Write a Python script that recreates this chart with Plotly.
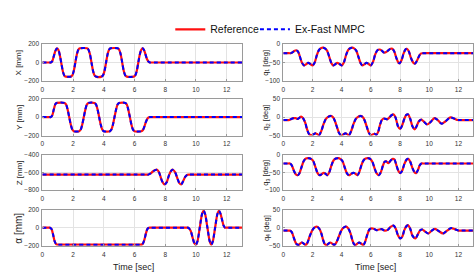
import plotly.graph_objects as go

# ---------------- data ----------------
T_X = [0, 0.45, 0.55, 0.65, 0.75, 0.85, 0.95, 1.05, 1.15, 1.25, 1.35, 1.45, 1.55, 1.85, 1.95, 2.05, 2.15, 2.25, 2.35, 2.45,
       2.9, 3.0, 3.1, 3.2, 3.3, 3.4, 3.5, 3.85, 3.95, 4.05, 4.15, 4.25, 4.35, 4.45, 4.9, 5.0, 5.1, 5.2, 5.3, 5.4, 5.5,
       5.95, 6.05, 6.15, 6.25, 6.35, 6.45, 6.53, 6.62, 6.72, 6.82, 6.92, 7.0, 7.1, 13]
X = [0, 0, 0, 15, 70, 125, 152, 135, 70, -20, -105, -145, -153, -153, -140, -90, 0, 90, 140, 153,
     153, 140, 90, 0, -90, -140, -153, -153, -140, -90, 0, 90, 140, 153, 153, 140, 90, 0, -90, -140, -153,
     -153, -140, -90, 0, 90, 140, 153, 135, 85, 35, 8, 0, 0, 0]

T_Y = [0, 0.45, 0.55, 0.65, 0.75, 0.85, 0.95, 1.45, 1.55, 1.65, 1.75, 1.85, 1.95, 2.05, 2.4, 2.5, 2.6, 2.7, 2.8, 2.9, 3.0,
       3.4, 3.5, 3.6, 3.7, 3.8, 3.9, 4.0, 4.4, 4.5, 4.6, 4.7, 4.8, 4.9, 5.0, 5.4, 5.5, 5.6, 5.7, 5.8, 5.9, 6.0,
       6.45, 6.55, 6.65, 6.75, 6.85, 6.95, 7.05, 7.15, 13]
Y = [0, 0, 0, 20, 85, 140, 153, 153, 135, 80, 0, -80, -135, -153, -153, -135, -80, 0, 80, 135, 153,
     153, 135, 80, 0, -80, -135, -153, -153, -135, -80, 0, 80, 135, 153, 153, 135, 80, 0, -80, -135, -153,
     -153, -140, -100, -50, -15, -2, 0, 0, 0]

T_Z = [0, 6.8, 6.9, 7.05, 7.2, 7.35, 7.47, 7.6, 7.7, 7.8, 7.95, 8.1, 8.25, 8.4, 8.5, 8.65, 8.8, 8.92, 9.04, 9.15, 9.3,
       9.45, 9.55, 9.65, 13]
Z = [-625, -625, -625, -612, -590, -574, -570, -600, -650, -700, -735, -710, -630, -580, -570, -600, -670, -720, -735,
     -705, -650, -627, -625, -625, -625]

T_A = [0, 0.4, 0.5, 0.6, 0.7, 0.8, 0.9, 1.0, 1.1, 6.35, 6.45, 6.55, 6.65, 6.75, 6.85, 6.95, 7.05, 9.4, 9.5, 9.65, 9.8,
       9.9, 10.0, 10.1, 10.25, 10.4, 10.5, 10.6, 10.75, 10.9, 11.0, 11.1, 11.25, 11.4, 11.5, 11.6, 11.7, 11.8, 11.9,
       12.0, 13]
A = [0, 0, 0, -15, -75, -150, -182, -188, -188, -188, -188, -175, -130, -60, -12, 0, 0, 0, 0, -30, -120,
     -172, -188, -152, 0, 152, 188, 152, 0, -152, -188, -152, 0, 152, 188, 157, 90, 25, 0,
     0, 0]

T_Q1 = [0, 0.4, 0.5, 0.62, 0.75, 0.88, 1.0, 1.12, 1.27,
        1.42, 1.55, 1.7, 1.85, 2.0, 2.15, 2.3, 2.45, 2.6, 2.72, 2.85, 3.0, 3.15, 3.3,
        3.42, 3.55, 3.7, 3.85, 4.0, 4.15, 4.3, 4.45, 4.6, 4.72, 4.85, 5.0, 5.15, 5.3,
        5.42, 5.55, 5.7, 5.85, 6.0, 6.15, 6.3, 6.45, 6.6, 6.75, 6.9, 7.05, 7.2, 7.35, 7.47, 7.6, 7.75, 7.9,
        7.98, 8.1, 8.25, 8.37, 8.47, 8.6, 8.75, 8.92, 9.03, 9.15, 9.3, 9.42, 9.55, 9.65, 13]
Q1 = [-25, -25, -25, -23, -19, -17, -20, -32, -50,
      -58, -55, -51, -54, -58, -50, -30, -16, -11, -10, -12, -18, -35, -52,
      -58, -55, -51, -54, -58, -50, -30, -16, -11, -10, -12, -18, -35, -52,
      -58, -55, -51, -54, -58, -48, -28, -17, -15, -18, -23, -22, -17, -13, -13, -20, -38, -51,
      -52, -44, -25, -15, -13, -20, -38, -51, -53, -46, -33, -26, -25, -25, -25]

T_Q2 = [0, 0.32, 0.42, 0.55, 0.7, 0.85, 0.98, 1.1, 1.22, 1.35, 1.5, 1.62, 1.75, 1.9,
        2.05, 2.2, 2.32, 2.45, 2.6, 2.75, 2.9, 3.05, 3.25, 3.42, 3.55, 3.7, 3.82, 3.95,
        4.1, 4.25, 4.37, 4.5, 4.65, 4.8, 4.95, 5.1, 5.3, 5.47, 5.6, 5.75, 5.87, 6.0,
        6.12, 6.25, 6.37, 6.5, 6.62, 6.75, 6.88, 7.0, 7.12, 7.25, 7.42, 7.57, 7.7, 7.85, 8.0, 8.12, 8.3,
        8.43, 8.55, 8.7, 8.85, 9.0, 9.12, 9.28, 9.45, 9.6, 9.85, 10.1, 10.35, 10.55, 10.85, 11.1, 11.45,
        11.7, 11.95, 12.05, 13]
Q2 = [-8, -8, -8, -5, -3, -3, -5, -2, 1, -3, -15, -32, -45, -49,
      -47, -44, -46, -49, -38, -20, -6, 0, 3, -1, -12, -30, -43, -49,
      -47, -44, -46, -49, -38, -20, -6, 0, 3, -1, -12, -30, -43, -49,
      -47, -45, -48, -40, -22, -8, -4, -5, -6, -2, 5, 7, -2, -24, -32, -25, -4,
      6, 7, -5, -25, -33, -26, -12, -7, -11, -20, -13, -3, -7, -18, -12, -1,
      -4, -8, -8, -8]

T_Q3 = [0, 0.35, 0.45, 0.58, 0.72, 0.85, 0.98, 1.1, 1.25, 1.4, 1.55, 1.75, 1.9, 2.05, 2.2, 2.35,
        2.5, 2.63, 2.77, 2.9, 3.02, 3.15, 3.3, 3.45, 3.6, 3.77, 3.9, 4.05, 4.2, 4.35,
        4.5, 4.63, 4.8, 4.95, 5.08, 5.2, 5.35, 5.5, 5.65, 5.82, 5.95, 6.1, 6.25, 6.4,
        6.55, 6.68, 6.82, 6.95, 7.05, 7.2, 7.35, 7.5, 7.62, 7.75, 7.9, 8.03, 8.15, 8.3, 8.45, 8.56,
        8.7, 8.85, 9.0, 9.1, 9.22, 9.35, 9.47, 9.57, 13]
Q3 = [-25, -25, -25, -30, -45, -55, -58, -53, -35, -18, -11, -10, -12, -18, -35, -52,
      -58, -55, -51, -54, -58, -50, -30, -16, -11, -10, -12, -18, -35, -52,
      -58, -55, -51, -54, -58, -50, -30, -16, -11, -10, -12, -20, -38, -53,
      -58, -50, -32, -20, -19, -24, -17, -12, -14, -30, -47, -52, -45, -26, -14, -12,
      -20, -38, -50, -52, -44, -30, -25, -25, -25]

T_Q4 = [0, 0.35, 0.45, 0.58, 0.72, 0.88, 1.03, 1.15, 1.27, 1.4, 1.53, 1.65, 1.8, 1.95, 2.1, 2.28, 2.45, 2.6, 2.72, 2.85,
        2.98, 3.1, 3.22, 3.35, 3.48, 3.62, 3.8, 3.95, 4.1, 4.29, 4.45, 4.6, 4.72, 4.85,
        4.95, 5.07, 5.2, 5.33, 5.48, 5.6, 5.75, 5.9, 6.05, 6.2, 6.4, 6.55, 6.75, 6.95, 7.15, 7.35, 7.55,
        7.7, 7.85, 8.02, 8.15, 8.3, 8.45, 8.56, 8.7, 8.85, 9.05, 9.2, 9.38, 9.52, 9.7, 9.93, 10.15, 10.39,
        10.6, 10.95, 11.2, 11.5, 11.75, 12.0, 12.1, 13]
Q4 = [-8, -8, -8, -12, -28, -44, -48, -44, -41, -44, -48, -42, -25, -10, -1, 3, -2, -15, -33, -46,
      -48, -44, -41, -44, -48, -42, -25, -10, -1, 3, -2, -15, -33, -46,
      -48, -44, -41, -44, -48, -40, -20, -5, -2, -3, -7, -5, -4, -8, -6, 2, 6,
      -2, -20, -30, -25, -6, 5, 7, -3, -22, -30, -20, -7, -5, -10, -16, -9, -3,
      -8, -16, -9, -1, -4, -8, -8, -8]

PANEL_T = [T_X, T_Y, T_Z, T_A, T_Q1, T_Q2, T_Q3, T_Q4]
PANEL_V = [X, Y, Z, A, Q1, Q2, Q3, Q4]
Y_LABELS = ["X [mm]", "Y [mm]", "Z [mm]", "α [mm]",
            "q<sub>1</sub> [deg]", "q<sub>2</sub> [deg]", "q<sub>3</sub> [deg]", "q<sub>4</sub> [deg]"]
Y_RANGES = [[-200, 200], [-200, 200], [-800, -400], [-200, 200],
            [-100, 0], [-50, 50], [-100, 0], [-50, 50]]
Y_TICKS = [[-200, 0, 200], [-200, 0, 200], [-800, -600, -400], [-200, 0, 200],
           [-100, -50, 0], [-50, 0, 50], [-100, -50, 0], [-50, 0, 50]]
X_TICKS = [0, 2, 4, 6, 8, 10, 12]
SERIES = ["Reference", "Ex-Fast NMPC"]

# ---------------- layout geometry (pixels) ----------------
W, H = 474, 277
COL_X = [(40.5, 241), (282.5, 473)]
ROW_Y = [(41, 79), (97, 135), (154.5, 191), (211, 248)]
LABEL_X = [17, 265.5]


def px_x(p):
    return p / W


def px_y(p):
    return 1 - p / H


fig = go.Figure()
FONT = "Liberation Sans, Arial, sans-serif"

for i in range(8):
    col, row = divmod(i, 4)
    n = "" if i == 0 else str(i + 1)
    fig.add_trace(go.Scatter(
        x=PANEL_T[i], y=PANEL_V[i], xaxis="x" + n, yaxis="y" + n, mode="lines",
        name=SERIES[0], legend="legend", showlegend=(i == 0),
        line=dict(color="#ff1010", width=2.2, shape="spline", smoothing=0.8)))
    fig.add_trace(go.Scatter(
        x=PANEL_T[i], y=PANEL_V[i], xaxis="x" + n, yaxis="y" + n, mode="lines",
        name=SERIES[1], legend="legend2", showlegend=(i == 0),
        line=dict(color="#0000ff", width=2.0, dash="4px,3px", shape="spline", smoothing=0.8)))

    x0, x1 = COL_X[col]
    y0, y1 = ROW_Y[row]
    axcommon = dict(showline=True, linecolor="#9a9a9a", linewidth=1, mirror=True,
                    showgrid=True, gridcolor="#e3e3e3", gridwidth=1, zeroline=False,
                    ticks="inside", ticklen=2, tickcolor="#9a9a9a",
                    tickfont=dict(family=FONT, size=6.5, color="#333333"))
    fig.layout["xaxis" + n] = dict(axcommon, domain=[px_x(x0), px_x(x1)], range=[0, 13],
                                   tickvals=X_TICKS, anchor="y" + n, ticklabelstandoff=2)
    fig.layout["yaxis" + n] = dict(axcommon, domain=[px_y(y1), px_y(y0)], range=Y_RANGES[i],
                                   tickvals=Y_TICKS[i], anchor="x" + n, ticklabelstandoff=1)
    fig.add_annotation(text=Y_LABELS[i], xref="paper", yref="paper",
                       x=px_x(LABEL_X[col]), y=px_y((y0 + y1) / 2), textangle=-90,
                       showarrow=False, xanchor="center", yanchor="middle",
                       font=dict(family=FONT, size=(10 if i == 3 else (8 if col == 0 else 7.5)),
                                 color="#222222"))

for cx in [132, 375.5]:
    fig.add_annotation(text="Time [sec]", xref="paper", yref="paper", x=px_x(cx), y=px_y(270),
                       showarrow=False, xanchor="center", yanchor="middle",
                       font=dict(family=FONT, size=9, color="#222222"))

LEGEND_COMMON = dict(orientation="h", y=px_y(26), xanchor="left", yanchor="middle",
                     font=dict(family=FONT, size=10.5, color="#111111"),
                     bgcolor="rgba(0,0,0,0)", itemwidth=30)

fig.update_layout(
    width=W, height=H, margin=dict(l=0, r=0, t=0, b=0),
    paper_bgcolor="white", plot_bgcolor="white",
    showlegend=True,
    legend=dict(LEGEND_COMMON, x=px_x(169)),
    legend2=dict(LEGEND_COMMON, x=px_x(254)),
)

fig.write_html("out.html")
